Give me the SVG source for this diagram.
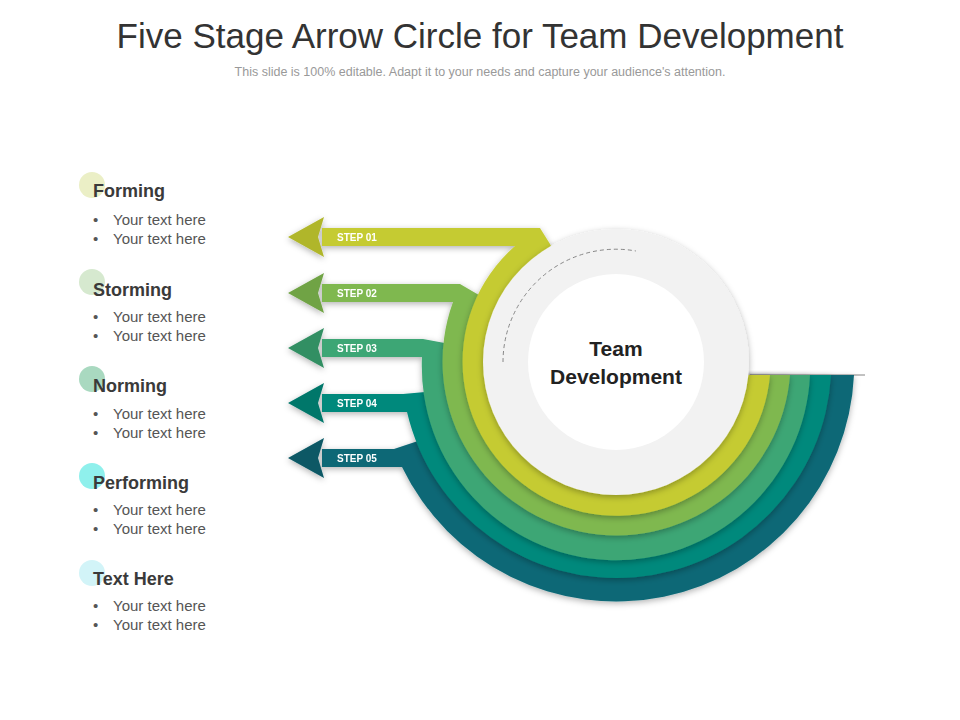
<svg xmlns="http://www.w3.org/2000/svg" width="960" height="720" viewBox="0 0 960 720">
<style>
.t{font-family:"Liberation Sans",Arial,sans-serif}
.h{font-family:"Liberation Sans",Arial,sans-serif;font-weight:bold;font-size:18px;fill:#3a3a3a}
.b{font-family:"Liberation Sans",Arial,sans-serif;font-size:15px;fill:#555}
.s{font-family:"Liberation Sans Narrow","Liberation Sans",Arial,sans-serif;font-weight:bold;font-size:10px;fill:#fff}
</style>
<defs>
<filter id="sh" x="-20%" y="-20%" width="140%" height="140%"><feDropShadow dx="0" dy="2" stdDeviation="3" flood-opacity="0.3"/></filter>
</defs>
<rect width="960" height="720" fill="#fff"/>
<text class="t" x="480" y="48" text-anchor="middle" font-size="35" fill="#333">Five Stage Arrow Circle for Team Development</text>
<text class="t" x="480" y="76" text-anchor="middle" font-size="12.5" fill="#999">This slide is 100% editable. Adapt it to your needs and capture your audience's attention.</text>
<g id="list">
<g id="forming"><circle cx="92" cy="185" r="13" fill="#EBEFC6"/><text class="h" x="93" y="197">Forming</text><text class="b" x="93" y="225">•</text><text class="b" x="113" y="225">Your text here</text><text class="b" x="93" y="244">•</text><text class="b" x="113" y="244">Your text here</text></g>
<g id="storming"><circle cx="92" cy="282" r="13" fill="#D6E9CF"/><text class="h" x="93" y="296">Storming</text><text class="b" x="93" y="322">•</text><text class="b" x="113" y="322">Your text here</text><text class="b" x="93" y="341">•</text><text class="b" x="113" y="341">Your text here</text></g>
<g id="norming"><circle cx="92" cy="379" r="13" fill="#A9D9C0"/><text class="h" x="93" y="392">Norming</text><text class="b" x="93" y="419">•</text><text class="b" x="113" y="419">Your text here</text><text class="b" x="93" y="438">•</text><text class="b" x="113" y="438">Your text here</text></g>
<g id="performing"><circle cx="92" cy="476" r="13" fill="#8FF0EC"/><text class="h" x="93" y="489">Performing</text><text class="b" x="93" y="515">•</text><text class="b" x="113" y="515">Your text here</text><text class="b" x="93" y="534">•</text><text class="b" x="113" y="534">Your text here</text></g>
<g id="texthere"><circle cx="92" cy="573" r="13" fill="#D2F4F8"/><text class="h" x="93" y="585">Text Here</text><text class="b" x="93" y="611">•</text><text class="b" x="113" y="611">Your text here</text><text class="b" x="93" y="630">•</text><text class="b" x="113" y="630">Your text here</text></g>
</g>
<g id="connectors">
<line x1="750" y1="375" x2="865" y2="375" stroke="#333" stroke-width="1" opacity="0.6"/>
<g id="step5" filter="url(#sh)">
<path d="M854,375 A238,238 0 0 1 402,467 L322,467 L322,449 L394,449 L616,375 Z" fill="#0B6876"/>
<path d="M288,458 L324,438 L318,458 L324,478 Z" fill="#095865"/>
<text class="s" x="337" y="462">STEP 05</text></g>
<g id="step4" filter="url(#sh)">
<path d="M831,375 A215,215 0 0 1 407,412 L322,412 L322,394 L403,394 L616,375 Z" fill="#00897B"/>
<path d="M288,403 L324,383 L318,403 L324,423 Z" fill="#00776B"/>
<text class="s" x="337" y="407">STEP 04</text></g>
<g id="step3" filter="url(#sh)">
<path d="M810,375 A194,194 0 1 1 422,357 L322,357 L322,339 L423,339 L616,375 Z" fill="#3DA674"/>
<path d="M288,348 L324,328 L318,348 L324,368 Z" fill="#338F63"/>
<text class="s" x="337" y="352">STEP 03</text></g>
<g id="step2" filter="url(#sh)">
<path d="M790,375 A174,174 0 1 1 453,302 L322,302 L322,284 L460,284 L616,375 Z" fill="#7FB850"/>
<path d="M288,293 L324,273 L318,293 L324,313 Z" fill="#6FA344"/>
<text class="s" x="337" y="297">STEP 02</text></g>
<g id="step1" filter="url(#sh)">
<path d="M770,375 A154,154 0 1 1 515,246 L322,246 L322,228 L540,228 L550,244 L616,375 Z" fill="#C5CB33"/>
<path d="M288,237 L324,217 L318,237 L324,257 Z" fill="#B0B62B"/>
<text class="s" x="337" y="241">STEP 01</text></g>
</g>
<g id="center">
<circle cx="616" cy="362" r="133" fill="#F2F2F2" filter="url(#sh)"/>
<circle cx="616" cy="362" r="88" fill="#fff"/>
<path d="M503,362 A113,113 0 0 1 636,251" fill="none" stroke="#888" stroke-width="1" stroke-dasharray="4,3"/>
<text class="t" x="616" y="356" text-anchor="middle" font-size="21" font-weight="bold" fill="#222">Team</text>
<text class="t" x="616" y="384" text-anchor="middle" font-size="21" font-weight="bold" fill="#222">Development</text>
</g>
</svg>
